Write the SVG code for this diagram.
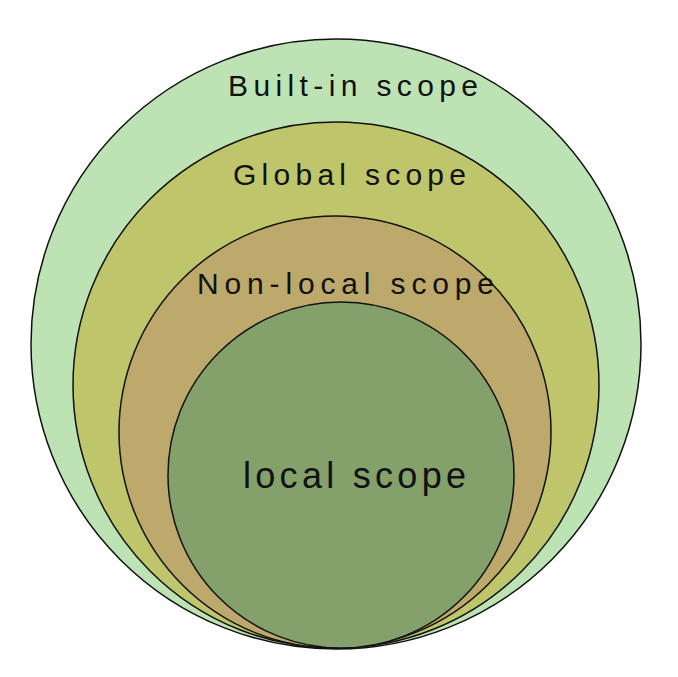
<svg xmlns="http://www.w3.org/2000/svg" width="678" height="677" viewBox="0 0 678 677">
<style>
circle{stroke:#111;stroke-width:1.5}
text{font-family:"Liberation Sans",sans-serif;fill:#111}
</style>
<rect width="678" height="677" fill="#fff"/>
<g id="builtin"><circle cx="336" cy="344" r="305" fill="#bde3b5"/><text x="228" y="96" font-size="30" textLength="250" lengthAdjust="spacing">Built-in scope</text></g>
<g id="global"><circle cx="336" cy="385" r="263" fill="#bfc56b"/><text x="233" y="185" font-size="30" textLength="233" lengthAdjust="spacing">Global scope</text></g>
<g id="nonlocal"><circle cx="335" cy="432" r="216" fill="#bca96b"/><text x="197" y="294" font-size="30" textLength="297" lengthAdjust="spacing">Non-local scope</text></g>
<g id="local"><circle cx="341" cy="475" r="173" fill="#84a06b"/><text x="243" y="488" font-size="36" textLength="223" lengthAdjust="spacing">local scope</text></g>
<g id="connectors"/>
</svg>
